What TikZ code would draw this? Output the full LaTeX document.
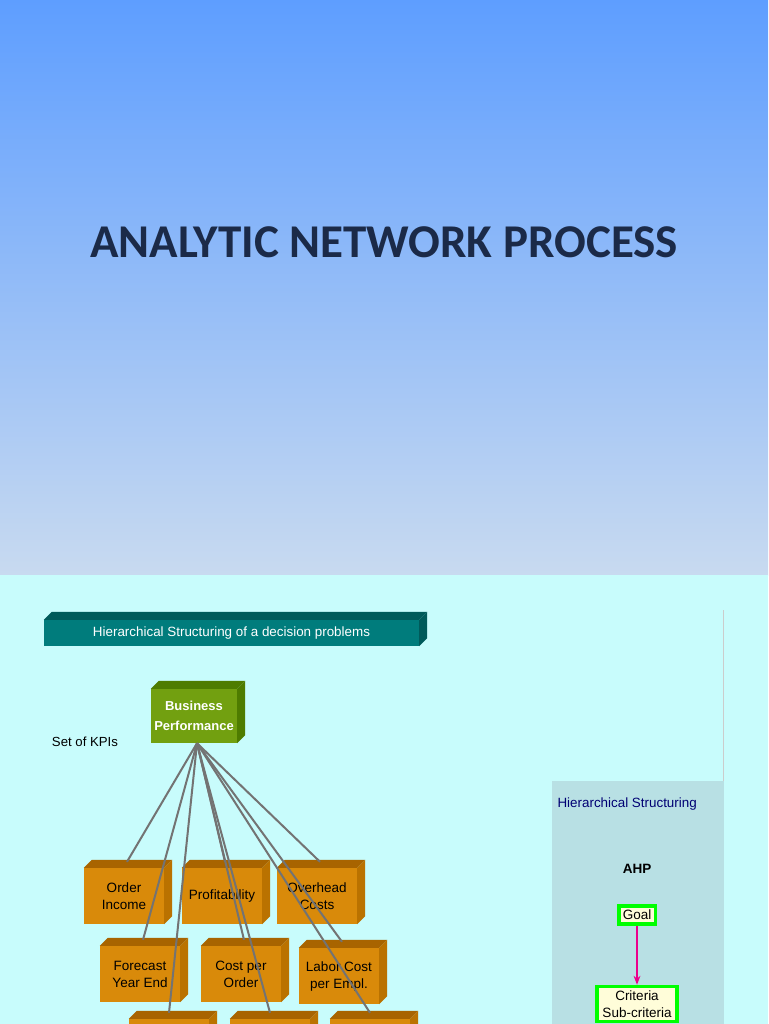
\documentclass[tikz,border=0pt]{standalone}
\usepackage{fontspec}
\setmainfont{Liberation Sans}
\newfontfamily\titlefont{Carlito}
\usetikzlibrary{arrows.meta, positioning, calc}
\definecolor{skytop}{HTML}{5E9EFF}
\definecolor{skybot}{HTML}{C8DAF0}
\definecolor{paper}{HTML}{C8FCFC}
\definecolor{panel}{HTML}{B8E0E4}
\definecolor{kpifront}{HTML}{D98A0A}
\definecolor{kpitop}{HTML}{A86400}
\definecolor{kpiside}{HTML}{BA7200}
\definecolor{bpfront}{HTML}{72A010}
\definecolor{bptop}{HTML}{4E7C00}
\definecolor{hdfront}{HTML}{007C7C}
\definecolor{hdtop}{HTML}{005A5A}
\tikzset{
  kpi/.style = {fill=kpifront, text=black, font=\fontsize{13.5}{17}\selectfont, align=center,
                inner sep=0pt, minimum width=80pt, minimum height=56pt},
  link/.style = {draw=gray!90!black, line width=2pt},
  ahpbox/.style = {draw=green, line width=3.5pt, fill=yellow!15, font=\fontsize{13.5}{17}\selectfont,
                   align=center, inner sep=4pt}
}
% top and right faces of a block
\newcommand{\blockfaces}[3]{%
  \fill[#2] (#1.north west) -- ++(8,-8) -- ($(#1.north east)+(8,-8)$) -- (#1.north east) -- cycle;
  \fill[#3] (#1.north east) -- ++(8,-8) -- ($(#1.south east)+(8,-8)$) -- (#1.south east) -- cycle;}
\begin{document}
\begin{tikzpicture}[x=1pt, y=-1pt]
\useasboundingbox (0,0) rectangle (768,1024);
\shade[top color=skytop, bottom color=skybot] (0,0) rectangle (768,575);
\fill[paper] (0,575) rectangle (768,1024);
\node (title) at (384,242) {\titlefont\bfseries\fontsize{47}{50}\selectfont\color[HTML]{1B2A48} ANALYTIC NETWORK PROCESS};

% header bar
\node (head) [fill=hdfront, minimum width=375pt, minimum height=26pt, inner sep=0pt,
  text=white, font=\fontsize{13.4}{15}\selectfont] at (231.5,633) {Hierarchical Structuring of a decision problems};
\blockfaces{head}{hdtop}{hdtop}

% goal
\node (bp) [fill=bpfront, minimum width=86pt, minimum height=54pt, inner sep=0pt, align=center,
  text=white, font=\bfseries\fontsize{13}{20}\selectfont] at (194,716) {Business\\Performance};
\blockfaces{bp}{bptop}{bptop}
\node (kpis) at (85,742) {\fontsize{13.2}{15}\selectfont Set of KPIs};

% KPIs
\node (oi) [kpi] at (124,896) {Order\\Income};
\node (pr) [kpi] at (222,896) {Profitability};
\node (oc) [kpi] at (317,896) {Overhead\\Costs};
\node (fc) [kpi] at (140,974) {Forecast\\Year End};
\node (co) [kpi] at (241,974) {Cost per\\Order};
\node (lc) [kpi] at (339,976) {Labor Cost\\per Empl.};
\node (b1) [kpi] at (169,1047) {};
\node (b2) [kpi] at (270,1047) {};
\node (b3) [kpi] at (370,1047) {};
\foreach \k in {oi,pr,oc,fc,co,lc,b1,b2,b3} {\blockfaces{\k}{kpitop}{kpiside}}

\coordinate (apex) at ($(bp.south)+(3,0)$);
\foreach \k in {oi,pr,oc,fc,co,lc} {\draw[link] (apex) -- ($(\k.north)+(3,-6)$);}
\foreach \k in {b1,b2,b3} {\draw[link] (apex) -- ($(\k.north)+(0,-6)$);}

% AHP panel
\draw[gray!40, line width=0.6pt] (723,610) -- (723,781);
\fill[panel] (552,781) rectangle (724,1024);
\node (hs) [text=blue!45!black, anchor=west] at (554,804) {\fontsize{13.4}{15}\selectfont Hierarchical Structuring};
\node (ahp) at (637,869) {\bfseries\fontsize{13.5}{15}\selectfont AHP};
\node (goal) [ahpbox] at (637,915) {Goal};
\node (crit) [ahpbox, minimum width=80pt] at (637,1004) {Criteria\\Sub-criteria};
\draw[-{Stealth[length=9pt]}, magenta, line width=1.6pt] (goal) -- (crit);
\end{tikzpicture}
\end{document}
